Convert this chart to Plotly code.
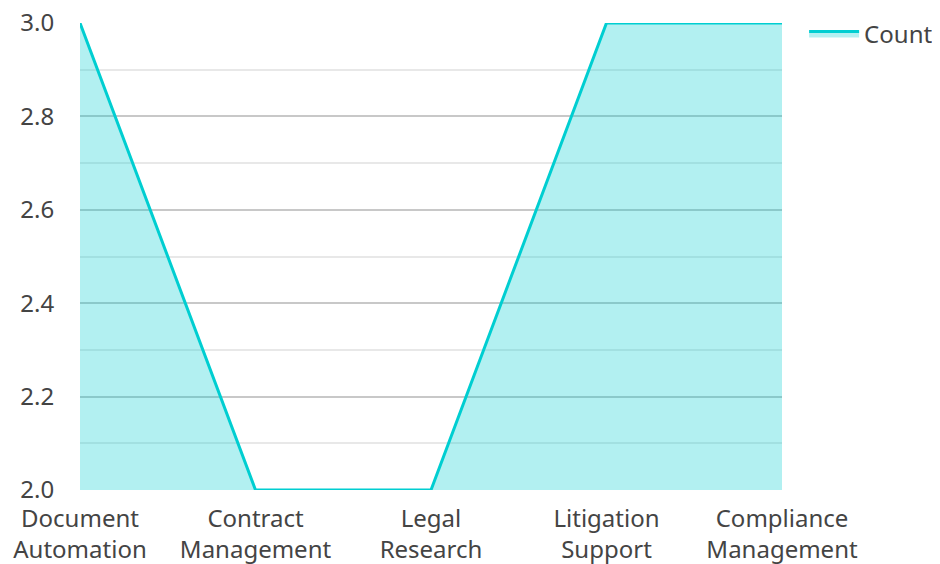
import plotly.graph_objects as go

categories = ["Document<br>Automation", "Contract<br>Management", "Legal<br>Research",
              "Litigation<br>Support", "Compliance<br>Management"]
counts = [3, 2, 2, 3, 3]
series_name = "Count"

fig = go.Figure()
fig.add_trace(go.Scatter(
    x=categories, y=counts, name=series_name, mode="lines",
    line=dict(color="#00CED1", width=3),
    fill="tozeroy", fillcolor="rgba(0,206,209,0.3)",
))

font_family = "Noto Sans, Open Sans, sans-serif"
fs = 24
txt = "#444444"
fig.update_layout(
    width=940, height=564,
    margin=dict(l=72, r=166, t=15, b=82, autoexpand=False),
    paper_bgcolor="white", plot_bgcolor="white",
    font=dict(family=font_family, size=fs, color=txt),
    showlegend=True,
    legend=dict(x=1.0315, y=1.025, xanchor="left", yanchor="top",
                font=dict(size=fs, color=txt), itemwidth=50,
                bgcolor="rgba(0,0,0,0)"),
    xaxis=dict(range=[0, 4], showgrid=False, zeroline=False, showline=False,
               automargin=False, ticks="outside", ticklen=7, tickcolor="rgba(0,0,0,0)",
               ticklabeloverflow="allow",
               tickfont=dict(size=fs, color=txt)),
    yaxis=dict(range=[2, 3], tickvals=[2.0, 2.2, 2.4, 2.6, 2.8, 3.0], tickformat=".1f",
               showgrid=True, ticklabeloverflow="allow",
               gridcolor="#c8c8c8", gridwidth=1.5, zeroline=False, showline=False,
               automargin=False, ticks="outside", ticklen=20, tickcolor="rgba(0,0,0,0)",
               tickfont=dict(size=fs, color=txt),
               minor=dict(dtick=0.1, showgrid=True, gridcolor="#e8e8e8", gridwidth=1.5,
                          ticks="")),
)
fig.write_html("out.html")
